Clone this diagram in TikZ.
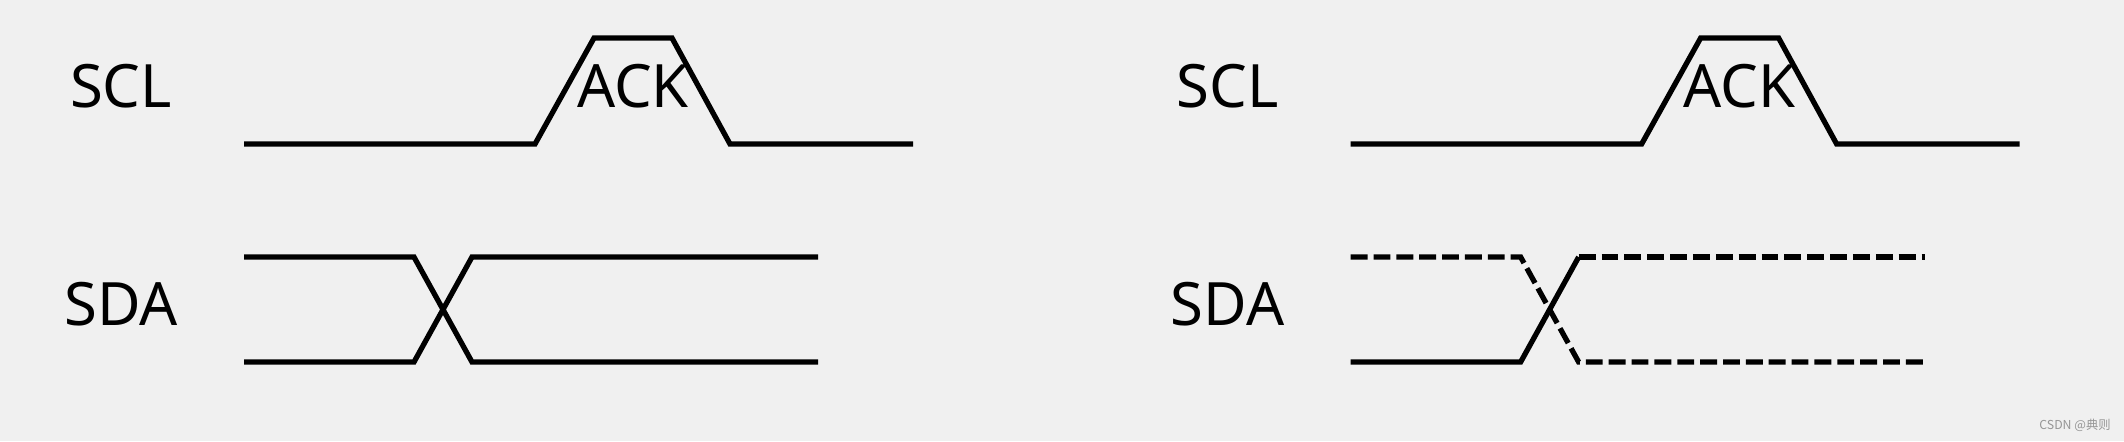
\documentclass[tikz,border=0pt]{standalone}
\usepackage{fontspec}
\setmainfont{Noto Sans}
\newfontfamily\cjk{Noto Sans CJK SC}
\definecolor{bgcolor}{RGB}{240,240,240}
\definecolor{markgray}{RGB}{150,150,150}
\tikzset{
  wave/.style={line width=1.5pt},
  dashwave/.style={wave, dash pattern=on 4.8pt off 1.7pt},
  signame/.style={font=\fontsize{17}{17}\selectfont, inner sep=0pt}
}
\begin{document}
\begin{tikzpicture}[x=0.01cm,y=-0.01cm]
  \fill[bgcolor] (0,0) rectangle (2124,441);
  \useasboundingbox (0,0) rectangle (2124,441);
  % left: master releases, slave pulls SDA
  \begin{scope}
    \node[signame] (scl1) at (121,86) {SCL};
    \node[signame] (sda1) at (121,304) {SDA};
    \node[signame] (ack1) at (633,86) {ACK};
    \draw[wave] (244,144) -- (535,144) -- (594,38) -- (672,38) -- (730,144) -- (913,144);
    \draw[wave] (244,257) -- (414,257) -- (472,362) -- (818,362);
    \draw[wave] (244,362) -- (414,362) -- (472,257) -- (818,257);
  \end{scope}
  % right: SDA undefined after the edge
  \begin{scope}[xshift=11.06cm]
    \node[signame] (scl2) at (121,86) {SCL};
    \node[signame] (sda2) at (121,304) {SDA};
    \node[signame] (ack2) at (633,86) {ACK};
    \draw[wave] (244,144) -- (535,144) -- (594,38) -- (672,38) -- (730,144) -- (913,144);
    \draw[dashwave] (244,257) -- (414,257) -- (472,362) -- (818,362);
    \draw[wave] (244,362) -- (414,362) -- (472,257);
    \draw[dashwave] (472,257) -- (818,257);
  \end{scope}
  \node[font=\cjk\fontsize{3.5}{4}\selectfont, text=markgray, inner sep=0pt] (mark) at (2075,425) {CSDN @典则};
\end{tikzpicture}
\end{document}
